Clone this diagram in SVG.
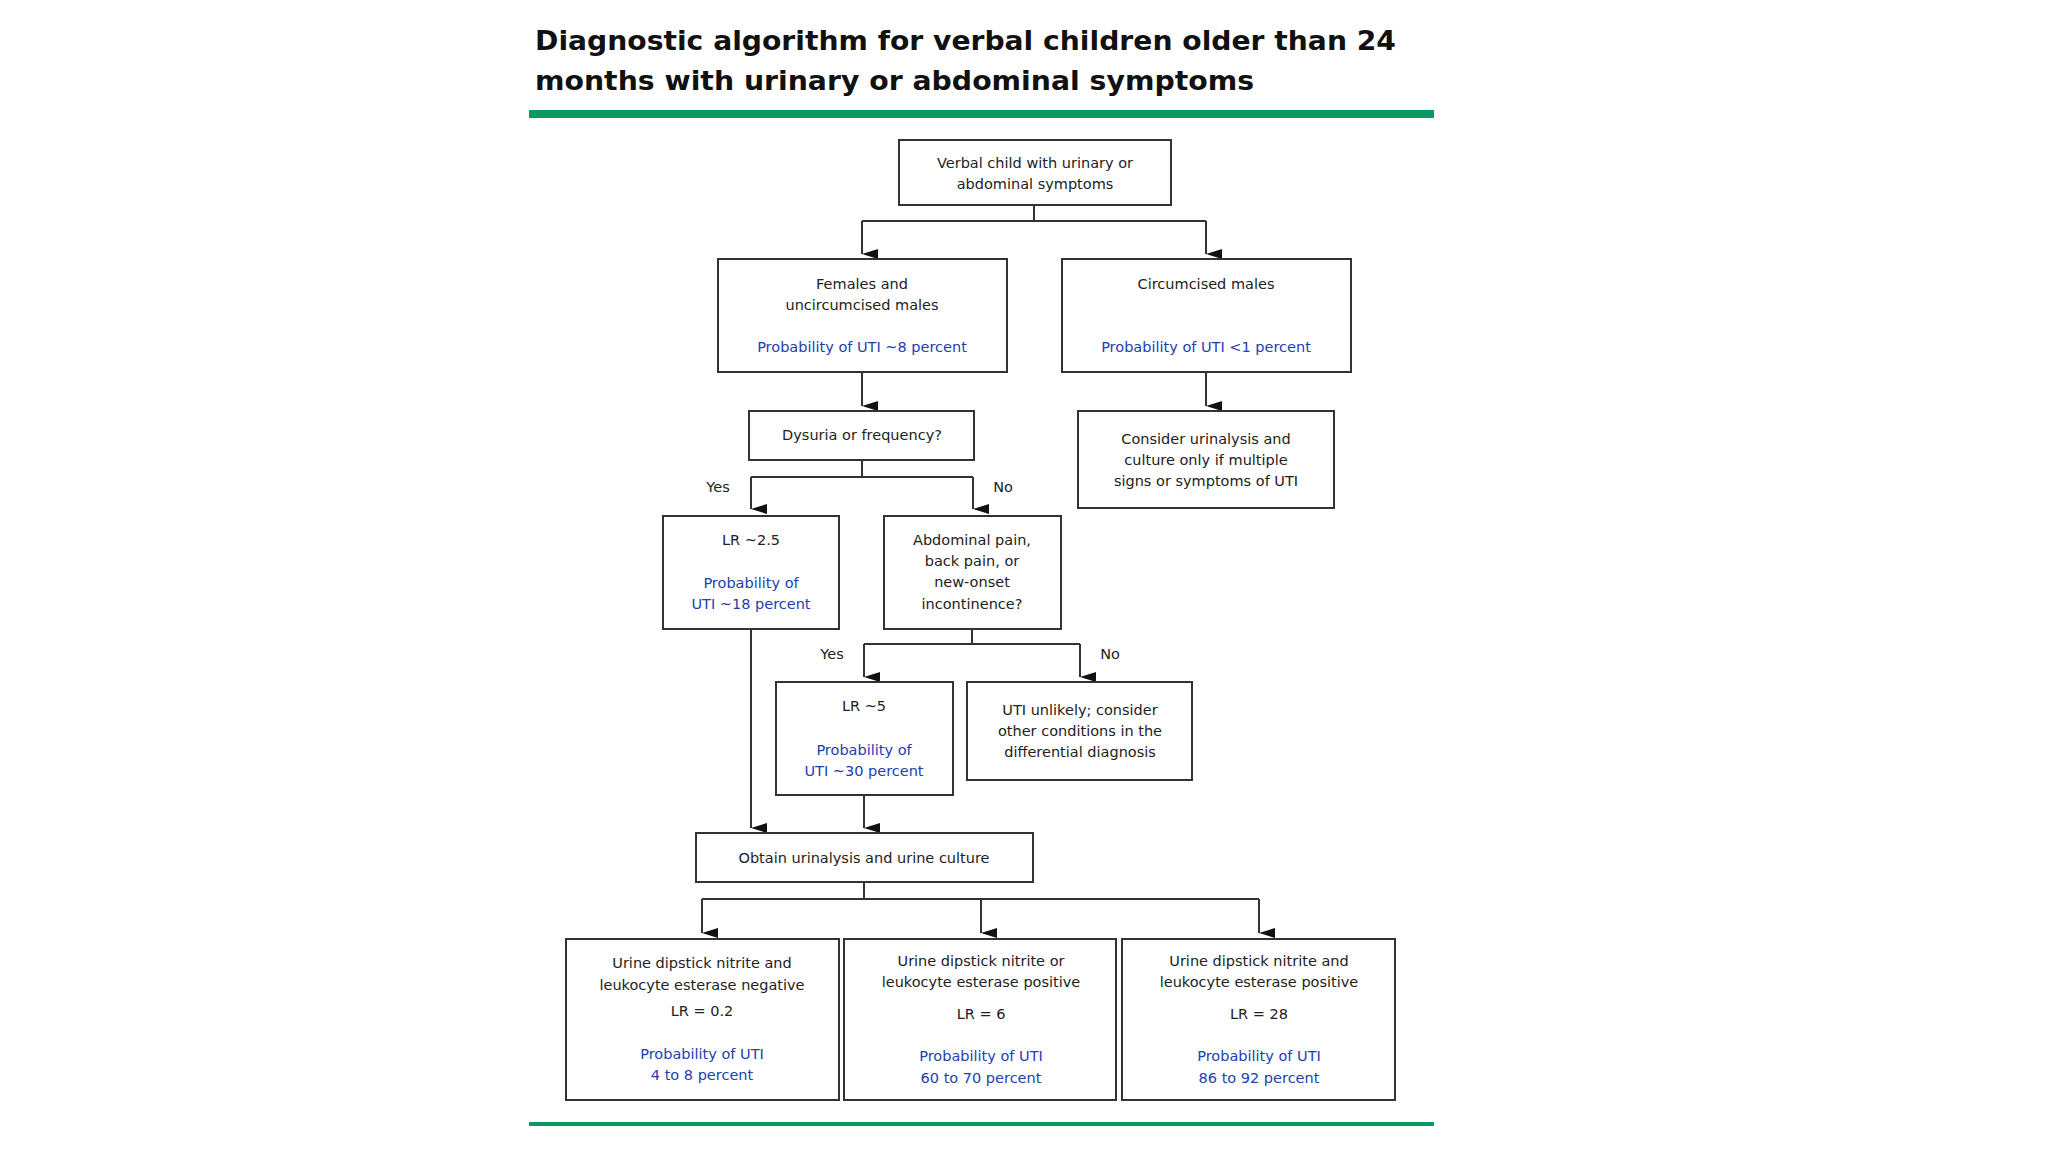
<svg xmlns="http://www.w3.org/2000/svg" width="2048" height="1152" viewBox="0 0 2048 1152">
<defs>
<marker id="ah" markerWidth="10" markerHeight="16" refX="5" refY="16" orient="auto-start-reverse" markerUnits="userSpaceOnUse" viewBox="0 0 10 16"><path d="M0,0 L10,0 L5,16 z" fill="#111"/></marker>
<style>
rect.b{fill:#fff;stroke:#333;stroke-width:2}
text{font-family:"DejaVu Sans","Liberation Sans",sans-serif;font-size:14.5px;fill:#222;text-anchor:middle}
text.bl{fill:#2340b0}
text.t{font-weight:bold;font-size:27px;text-anchor:start;fill:#111}
.c path,.c line{fill:none;stroke:#333;stroke-width:2}
</style>
</defs>
<rect width="2048" height="1152" fill="#fff"/>
<g id="title">
<text class="t" x="535" y="50" textLength="861" lengthAdjust="spacingAndGlyphs">Diagnostic algorithm for verbal children older than 24</text>
<text class="t" x="535" y="90" textLength="719" lengthAdjust="spacingAndGlyphs">months with urinary or abdominal symptoms</text>
<rect x="529" y="110" width="905" height="8" fill="#0a9963"/>
<rect x="529" y="1122" width="905" height="4" fill="#0a9963"/>
</g>
<g class="c" id="connectors">
<path d="M1034,205 V221 M862,221 H1206"/>
<line x1="862" y1="221" x2="862" y2="254" marker-end="url(#ah)"/>
<line x1="1206" y1="221" x2="1206" y2="254" marker-end="url(#ah)"/>
<line x1="862" y1="372" x2="862" y2="406" marker-end="url(#ah)"/>
<line x1="1206" y1="372" x2="1206" y2="406" marker-end="url(#ah)"/>
<path d="M862,460 V477 M751,477 H973"/>
<line x1="751" y1="477" x2="751" y2="509" marker-end="url(#ah)"/>
<line x1="973" y1="477" x2="973" y2="509" marker-end="url(#ah)"/>
<path d="M972,629 V644 M864,644 H1080"/>
<line x1="864" y1="644" x2="864" y2="677" marker-end="url(#ah)"/>
<line x1="1080" y1="644" x2="1080" y2="677" marker-end="url(#ah)"/>
<line x1="751" y1="629" x2="751" y2="828" marker-end="url(#ah)"/>
<line x1="864" y1="795" x2="864" y2="828" marker-end="url(#ah)"/>
<path d="M864,882 V899 M702,899 H1259"/>
<line x1="702" y1="899" x2="702" y2="933" marker-end="url(#ah)"/>
<line x1="981" y1="899" x2="981" y2="933" marker-end="url(#ah)"/>
<line x1="1259" y1="899" x2="1259" y2="933" marker-end="url(#ah)"/>
<text x="718" y="492">Yes</text>
<text x="1003" y="492">No</text>
<text x="832" y="659">Yes</text>
<text x="1110" y="659">No</text>
</g>
<g id="start"><rect class="b" x="899" y="140" width="272" height="65"/>
<text x="1035" y="168">Verbal child with urinary or</text><text x="1035" y="189">abdominal symptoms</text></g>
<g id="females"><rect class="b" x="718" y="259" width="289" height="113"/>
<text x="862" y="289">Females and</text><text x="862" y="310">uncircumcised males</text>
<text class="bl" x="862" y="352">Probability of UTI ~8 percent</text></g>
<g id="circ"><rect class="b" x="1062" y="259" width="289" height="113"/>
<text x="1206" y="289">Circumcised males</text>
<text class="bl" x="1206" y="352">Probability of UTI &lt;1 percent</text></g>
<g id="dysuria"><rect class="b" x="749" y="411" width="225" height="49"/>
<text x="862" y="440">Dysuria or frequency?</text></g>
<g id="consider"><rect class="b" x="1078" y="411" width="256" height="97"/>
<text x="1206" y="444">Consider urinalysis and</text><text x="1206" y="465">culture only if multiple</text><text x="1206" y="486">signs or symptoms of UTI</text></g>
<g id="lr25"><rect class="b" x="663" y="516" width="176" height="113"/>
<text x="751" y="545">LR ~2.5</text>
<text class="bl" x="751" y="588">Probability of</text><text class="bl" x="751" y="609">UTI ~18 percent</text></g>
<g id="abd"><rect class="b" x="884" y="516" width="177" height="113"/>
<text x="972" y="545">Abdominal pain,</text><text x="972" y="566">back pain, or</text><text x="972" y="587">new-onset</text><text x="972" y="609">incontinence?</text></g>
<g id="lr5"><rect class="b" x="776" y="682" width="177" height="113"/>
<text x="864" y="711">LR ~5</text>
<text class="bl" x="864" y="755">Probability of</text><text class="bl" x="864" y="776">UTI ~30 percent</text></g>
<g id="unlikely"><rect class="b" x="967" y="682" width="225" height="98"/>
<text x="1080" y="715">UTI unlikely; consider</text><text x="1080" y="736">other conditions in the</text><text x="1080" y="757">differential diagnosis</text></g>
<g id="obtain"><rect class="b" x="696" y="833" width="337" height="49"/>
<text x="864" y="863">Obtain urinalysis and urine culture</text></g>
<g id="neg"><rect class="b" x="566" y="939" width="273" height="161"/>
<text x="702" y="968">Urine dipstick nitrite and</text><text x="702" y="990">leukocyte esterase negative</text><text x="702" y="1016">LR = 0.2</text>
<text class="bl" x="702" y="1059">Probability of UTI</text><text class="bl" x="702" y="1080">4 to 8 percent</text></g>
<g id="orpos"><rect class="b" x="844" y="939" width="272" height="161"/>
<text x="981" y="966">Urine dipstick nitrite or</text><text x="981" y="987">leukocyte esterase positive</text><text x="981" y="1019">LR = 6</text>
<text class="bl" x="981" y="1061">Probability of UTI</text><text class="bl" x="981" y="1083">60 to 70 percent</text></g>
<g id="andpos"><rect class="b" x="1122" y="939" width="273" height="161"/>
<text x="1259" y="966">Urine dipstick nitrite and</text><text x="1259" y="987">leukocyte esterase positive</text><text x="1259" y="1019">LR = 28</text>
<text class="bl" x="1259" y="1061">Probability of UTI</text><text class="bl" x="1259" y="1083">86 to 92 percent</text></g>
</svg>
